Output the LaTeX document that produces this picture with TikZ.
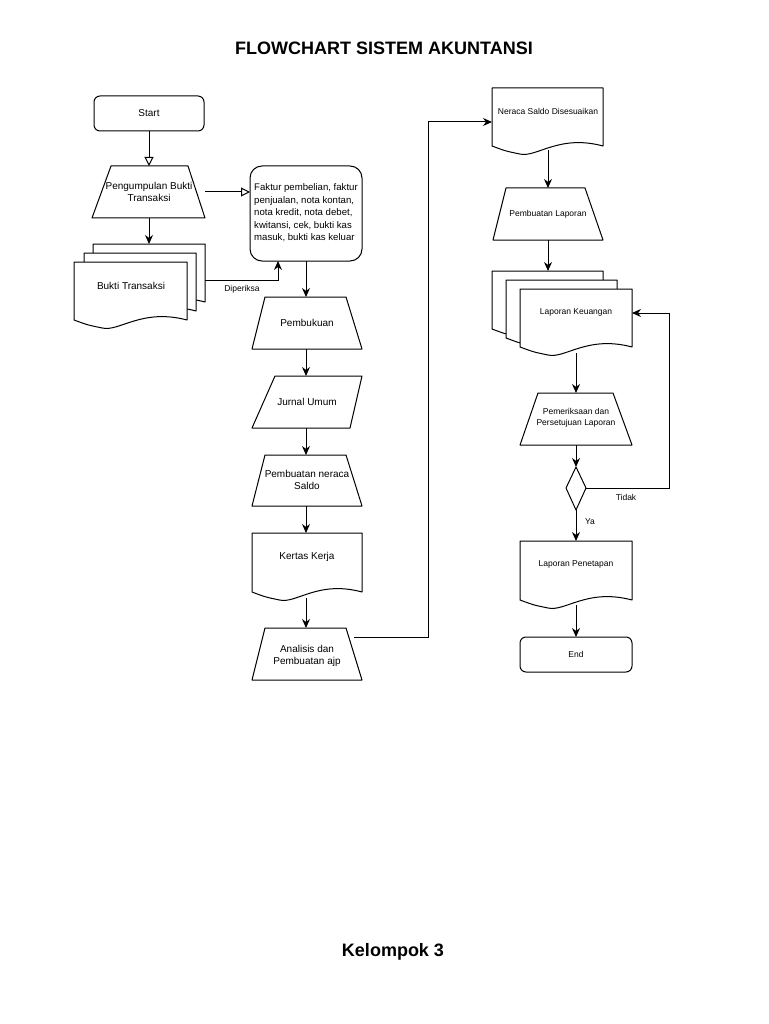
\documentclass[tikz,border=0pt]{standalone}
\usepackage{fontspec}
\setmainfont{Liberation Sans}
\usetikzlibrary{arrows.meta}
\begin{document}
\begin{tikzpicture}[x=1pt,y=-1pt,
  shp/.style={draw=black,line width=1pt,fill=white,line join=round},
  lbl/.style={font=\fontsize{10}{12.5}\selectfont,align=center},
  arr/.style={draw,line width=1pt,-{Stealth[length=9pt,width=8pt]}},
  oarr/.style={draw,line width=1pt,-{Triangle[open,length=9pt,width=9pt]}},
  ln/.style={draw,line width=1pt}]
\useasboundingbox (0,0) rectangle (768,1024);
\fill[white] (0,0) rectangle (768,1024);
\newcommand{\docsh}[4]{\path[shp] (#1,#4) -- (#1,#2) -- (#3,#2) -- (#3,#4)
  .. controls ({#1+0.6*(#3-#1)},{#4-12}) and ({#1+0.4*(#3-#1)},{#4+12}) .. ({#1+0.25*(#3-#1)},{#4+8})
  .. controls ({#1+0.12*(#3-#1)},{#4+5}) .. (#1,#4) -- cycle;}

\node[font=\bfseries\fontsize{18}{21}\selectfont] (title) at (384,48) {FLOWCHART SISTEM AKUNTANSI};
\node[font=\bfseries\fontsize{18}{21}\selectfont] (kel) at (393,952) {Kelompok 3};

% Start
\draw[shp,rounded corners=6] (94,96) rectangle (204,131);
\node[lbl] (start) at (149,113) {Start};
% Pengumpulan
\path[shp] (111,166) -- (188,166) -- (205,218) -- (92,218) -- cycle;
\node[lbl] (peng) at (149,192) {Pengumpulan Bukti\\Transaksi};
% Bukti transaksi
\docsh{93}{244}{205}{302}
\docsh{84}{253}{196}{311}
\docsh{74}{262}{187}{320}
\node[lbl] (bukti) at (131,286) {Bukti Transaksi};
% Faktur
\draw[shp,rounded corners=12] (250,166) rectangle (362,261);
\node[lbl,align=left,font=\fontsize{9.6}{12.5}\selectfont,inner sep=0pt] (faktur) at (306,213) {Faktur pembelian, faktur\\penjualan, nota kontan,\\nota kredit, nota debet,\\kwitansi, cek, bukti kas\\masuk, bukti kas keluar};
% middle column
\path[shp] (265,297) -- (346,297) -- (362,349) -- (252,349) -- cycle;
\node[lbl] (pemb) at (307,323) {Pembukuan};
\path[shp] (275,376) -- (362,376) -- (350,428) -- (252,428) -- cycle;
\node[lbl] (jurnal) at (307,402) {Jurnal Umum};
\path[shp] (265,455) -- (346,455) -- (362,506) -- (252,506) -- cycle;
\node[lbl] (neraca) at (307,480) {Pembuatan neraca\\Saldo};
\docsh{252}{533}{362}{592}
\node[lbl] (kertas) at (307,557) {Kertas Kerja};
\path[shp] (265,628) -- (346,628) -- (362,680) -- (252,680) -- cycle;
\node[lbl] (anal) at (307,656) {Analisis dan\\Pembuatan ajp};
% right column
\docsh{492}{88}{603}{146}
\node[lbl,font=\fontsize{8.5}{10}\selectfont] (ns) at (548,111) {Neraca Saldo Disesuaikan};
\path[shp] (506,188) -- (585,188) -- (603,240) -- (493,240) -- cycle;
\node[lbl,font=\fontsize{8.5}{10}\selectfont] (pl) at (548,214) {Pembuatan Laporan};
\docsh{492}{271}{603}{329}
\docsh{506}{280}{617}{338}
\docsh{520}{289}{632}{347}
\node[lbl,font=\fontsize{8.5}{10}\selectfont] (lk) at (576,312) {Laporan Keuangan};
\path[shp] (538,393) -- (613,393) -- (632,445) -- (520,445) -- cycle;
\node[lbl,font=\fontsize{8.5}{11}\selectfont] (pem) at (576,418) {Pemeriksaan dan\\Persetujuan Laporan};
\path[shp] (576,467) -- (586,488) -- (576,510) -- (566,488) -- cycle;
\coordinate (dia) at (576,488);
\docsh{520}{541}{632}{600}
\node[lbl,font=\fontsize{8.5}{10}\selectfont] (lp) at (576,564) {Laporan Penetapan};
\draw[shp,rounded corners=6] (520,637) rectangle (632,672);
\node[lbl,font=\fontsize{8.5}{10}\selectfont] (endn) at (576,654) {End};

% connectors
\draw[oarr] (149,131) -- (149,166);
\draw[oarr] (205,192) -- (250,192);
\draw[arr] (149,218) -- (149,244);
\draw[arr] (205,280) -- (278,280) -- (278,261);
\node[lbl,font=\fontsize{8.5}{10}\selectfont] (dip) at (242,289) {Diperiksa};
\draw[arr] (306,261) -- (306,297);
\draw[arr] (306,349) -- (306,376);
\draw[arr] (306,428) -- (306,455);
\draw[arr] (306,506) -- (306,533);
\draw[arr] (306,598) -- (306,628);
\draw[arr] (354,637) -- (428,637) -- (428,122) -- (492,122);
\draw[arr] (548,150) -- (548,188);
\draw[arr] (548,240) -- (548,271);
\draw[arr] (576,353) -- (576,393);
\draw[arr] (576,445) -- (576,467);
\draw[arr] (576,510) -- (576,541);
\node[lbl,font=\fontsize{8.5}{10}\selectfont] (ya) at (590,522) {Ya};
\draw[arr] (586,488) -- (669,488) -- (669,313) -- (632,313);
\node[lbl,font=\fontsize{8.5}{10}\selectfont] (tidak) at (626,497) {Tidak};
\draw[arr] (576,605) -- (576,637);
\end{tikzpicture}
\end{document}
